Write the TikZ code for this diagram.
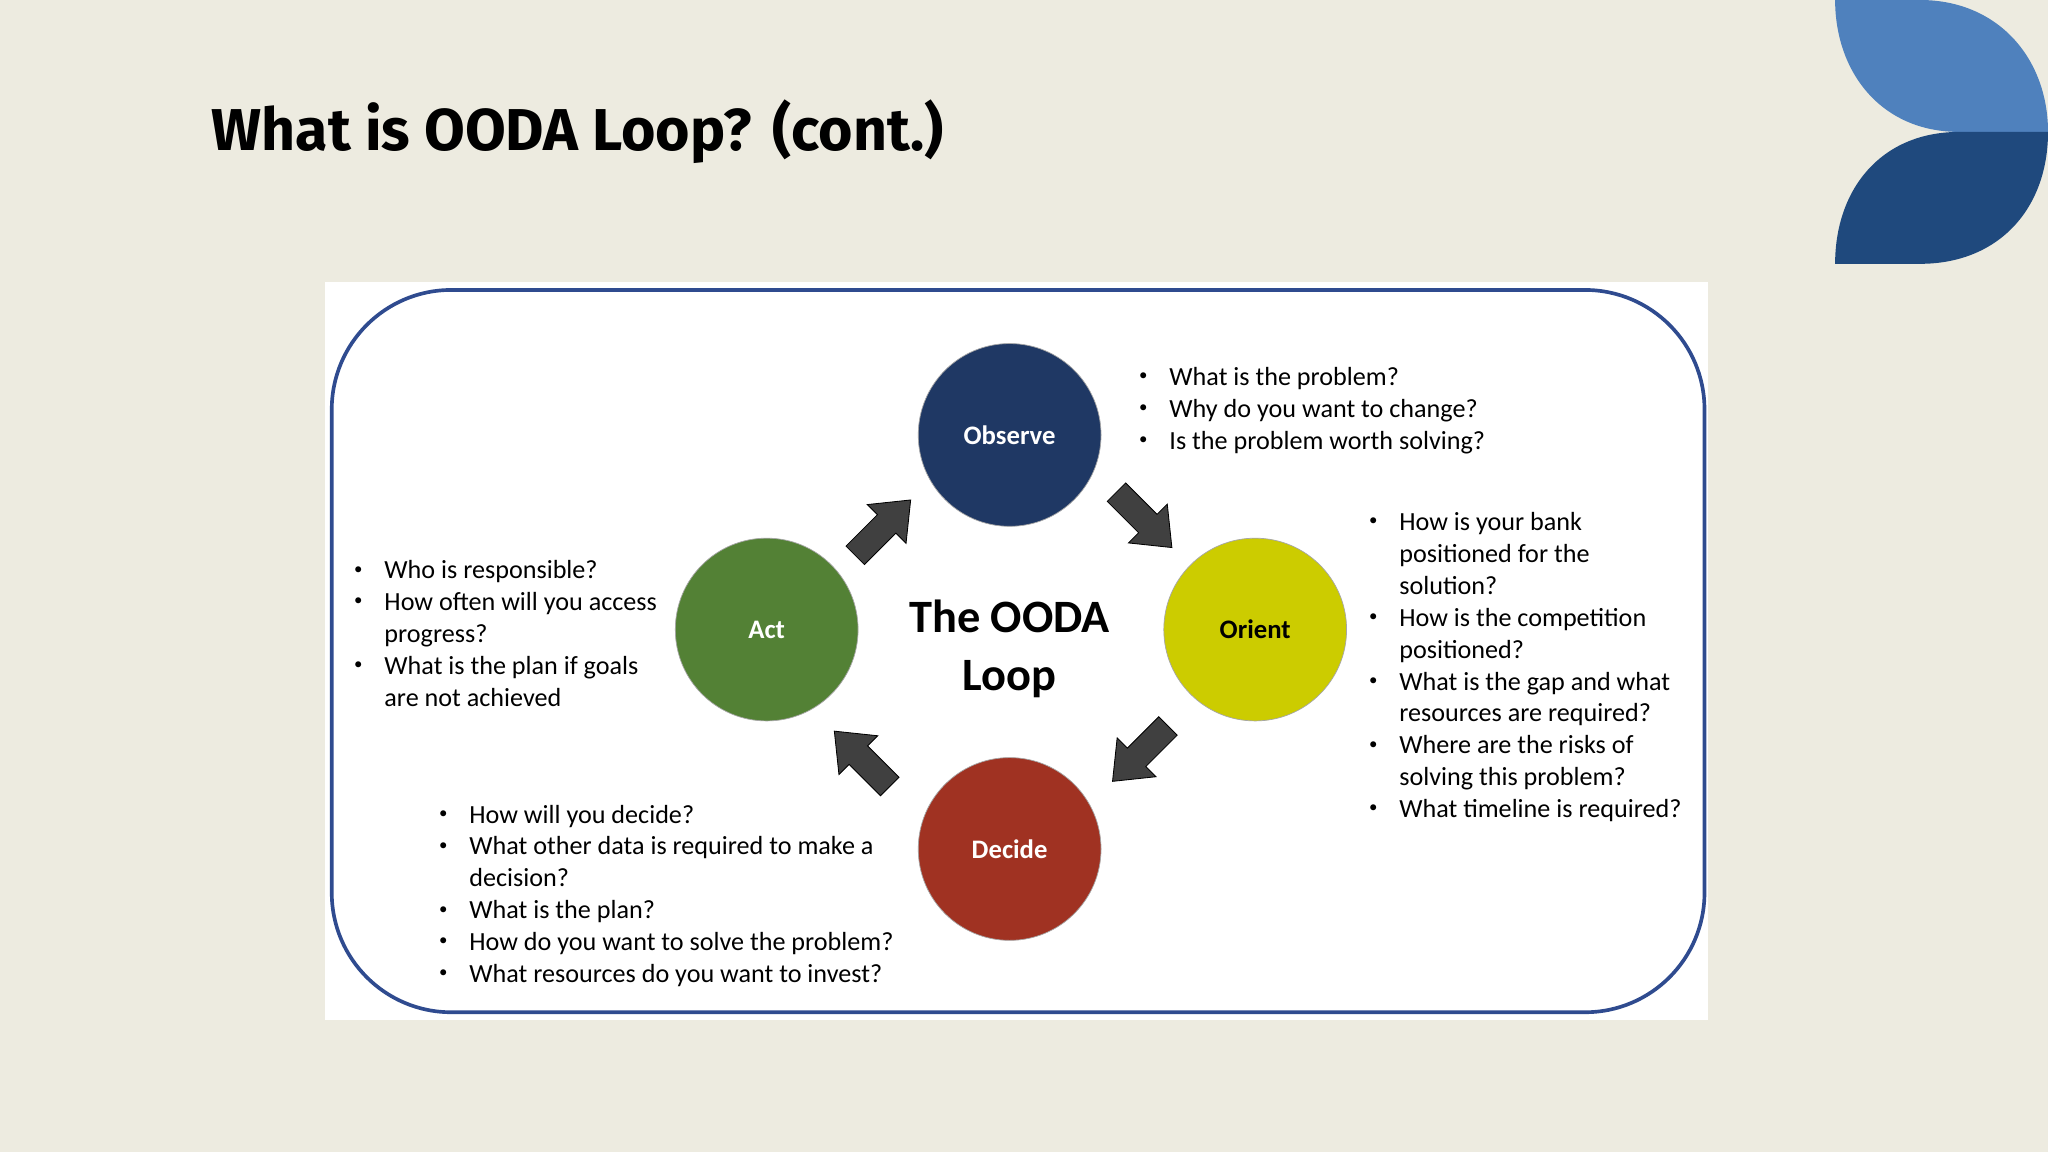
\documentclass[tikz,border=0pt]{standalone}
\usepackage{fontspec}
\setmainfont{Carlito}
\newfontfamily\titlefont{Fira Sans}
\definecolor{bg}{HTML}{EDEBE0}
\definecolor{lblue}{HTML}{4F81BD}
\definecolor{dblue}{HTML}{1F497D}
\definecolor{frame}{HTML}{2F4B8F}
\definecolor{cobs}{HTML}{1F3864}
\definecolor{cori}{HTML}{CCCC00}
\definecolor{cdec}{HTML}{A03222}
\definecolor{cact}{HTML}{538135}
\definecolor{agray}{HTML}{404040}
\newcommand{\bl}[1]{\makebox[21.5pt][l]{\raisebox{0.18em}{\fontsize{12}{12}\selectfont\textbullet}}#1\\}
\newcommand{\cl}[1]{\hspace*{21.5pt}#1\\}
\tikzset{
  phase/.style={circle,minimum size=130pt,inner sep=0pt,draw=gray!70,line width=0.5pt,text=white,font=\bfseries\fontsize{19}{22}\selectfont},
  lst/.style={anchor=north west,align=left,inner sep=0pt,font=\fontsize{18.6}{22.7}\selectfont},
  blk/.pic={\draw[fill=agray,draw=black,line width=0.6pt] (-30,-10)--(4,-10)--(4,-21)--(30,0)--(4,21)--(4,10)--(-30,10)--cycle;}
}
\begin{document}
\begin{tikzpicture}[x=0.03265cm,y=-0.03265cm]
\fill[bg] (0,0) rectangle (1568,882);
\useasboundingbox (0,0) rectangle (1568,882);
% decoration
\fill[lblue] (1405,0) -- (1470,0) .. controls (1530,0) and (1568,45) .. (1568,101) -- (1500,101) .. controls (1440,101) and (1405,55) .. (1405,0) -- cycle;
\fill[dblue] (1500,101) -- (1568,101) .. controls (1568,160) and (1530,202) .. (1470,202) -- (1405,202) .. controls (1405,145) and (1440,101) .. (1500,101) -- cycle;
% title
\node[anchor=west,inner sep=0pt,font=\titlefont\bfseries\fontsize{42}{44}\selectfont] (title) at (162,101) {What is OODA Loop?\hspace{0.35em}(cont.)\hspace{-0.1em}};
% panel
\fill[white] (249,216) rectangle (1308,781);
\draw[frame,line width=2.6pt,rounded corners=85pt] (254,222) rectangle (1305,775);
% circles
\node[phase,fill=cobs] (obs) at (773,333) {Observe};
\node[phase,fill=cori,text=black] (ori) at (961,482) {Orient};
\node[phase,fill=cdec] (dec) at (773,650) {Decide};
\node[phase,fill=cact] (act) at (587,482) {Act};
\node[align=center,font=\bfseries\fontsize{33}{41}\selectfont] (center) at (773,497) {The OODA\\Loop};
% arrows
\pic[rotate=45] at (676,404) {blk};
\pic[rotate=-45] at (876,398) {blk};
\pic[rotate=-135] at (873,577) {blk};
\pic[rotate=135] at (660,581) {blk};
% lists
\node[lst] (lobs) at (872,281) {\bl{What is the problem?}\bl{Why do you want to change?}\bl{Is the problem worth solving?}};
\node[lst] (lori) at (1048,392) {\bl{How is your bank}\cl{positioned for the}\cl{solution?}\bl{How is the competition}\cl{positioned?}\bl{What is the gap and what}\cl{resources are required?}\bl{Where are the risks of}\cl{solving this problem?}\bl{What timeline is required?}};
\node[lst] (lact) at (271,429) {\bl{Who is responsible?}\bl{How often will you access}\cl{progress?}\bl{What is the plan if goals}\cl{are not achieved}};
\node[lst] (ldec) at (336,616) {\bl{How will you decide?}\bl{What other data is required to make a}\cl{decision?}\bl{What is the plan?}\bl{How do you want to solve the problem?}\bl{What resources do you want to invest?}};
\end{tikzpicture}
\end{document}
